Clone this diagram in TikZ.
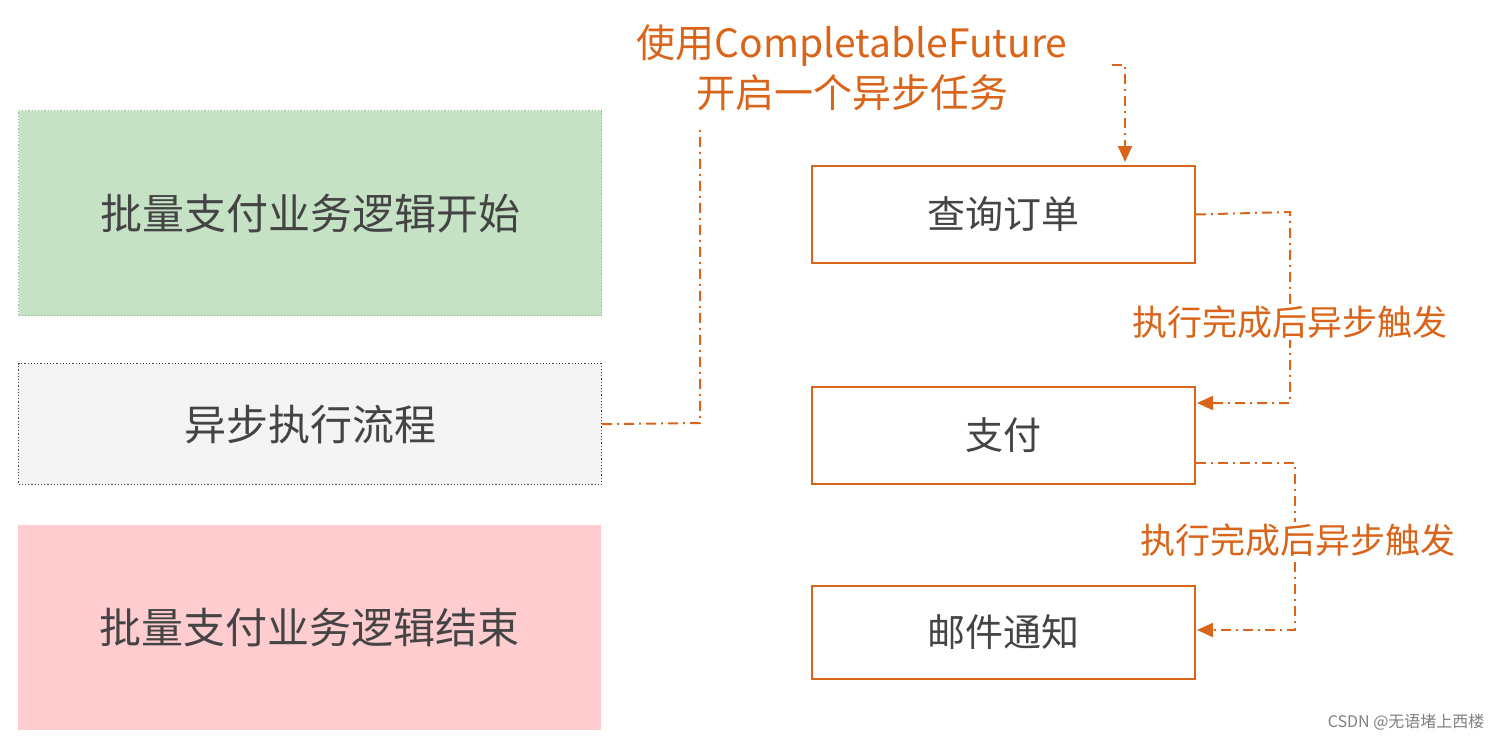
\documentclass[tikz,border=0pt]{standalone}
\usepackage{fontspec}
\setmainfont{Noto Sans CJK SC}
\usetikzlibrary{arrows.meta}
\definecolor{org}{HTML}{D9651B}
\definecolor{txt}{HTML}{444444}
\tikzset{
 lbox/.style={minimum width=583pt,inner sep=0pt,anchor=north west,font=\fontsize{42}{48}\selectfont,text=txt},
 obox/.style={draw=org,line width=2pt,fill=white,minimum width=383pt,minimum height=97pt,inner sep=0pt,anchor=north west,font=\fontsize{38}{44}\selectfont,text=txt},
 conn/.style={draw=org,line width=2pt,dash pattern=on 10pt off 5pt on 2pt off 5pt},
 arr/.style={conn,-{Triangle[length=16pt,width=14pt]}},
 olab/.style={text=org,font=\fontsize{35}{40}\selectfont,inner sep=0pt}
}
\begin{document}
\begin{tikzpicture}[x=1pt,y=-1pt]
\useasboundingbox[fill=white] (0,0) rectangle (1501,742);
\node[lbox,fill={rgb,255:red,197;green,227;blue,196},draw={rgb,255:red,140;green,190;blue,140},dotted,line width=1.2pt,minimum height=205pt] (start) at (18,110) {批量支付业务逻辑开始};
\node[lbox,fill={rgb,255:red,244;green,244;blue,244},draw=txt,dotted,line width=1.2pt,minimum height=121pt] (async) at (18,363) {异步执行流程};
\node[lbox,fill={rgb,255:red,255;green,204;blue,208},minimum height=205pt] (end) at (18,525) {批量支付业务逻辑结束};
\node[obox] (q) at (811,165) {查询订单};
\node[obox] (p) at (811,386) {支付};
\node[obox,minimum height=93pt] (m) at (811,585) {邮件通知};
\node[olab,font=\fontsize{39}{50}\selectfont,align=center] (t) at (852,68) {使用CompletableFuture\\开启一个异步任务};
\coordinate (c1) at (700,125);
\coordinate (c2) at (1112,65);
\draw[conn] (async.east) -- (700,423) -- (c1);
\draw[arr] (c2) -- (1125,65) -- (1125,162);
\draw[arr] (q.east) -- (1290,212) -- (1290,403) -- (1197,403);
\draw[arr] (p.east |- 0,463) -- (1295,463) -- (1295,630) -- (1197,630);
\node[olab,fill=white,inner sep=2pt] (l1) at (1290,322) {执行完成后异步触发};
\node[olab,fill=white,inner sep=2pt] (l2) at (1298,540) {执行完成后异步触发};
\node[text=gray,font=\fontsize{16}{18}\selectfont,anchor=east] (w) at (1488,722) {CSDN @无语堵上西楼};
\end{tikzpicture}
\end{document}
